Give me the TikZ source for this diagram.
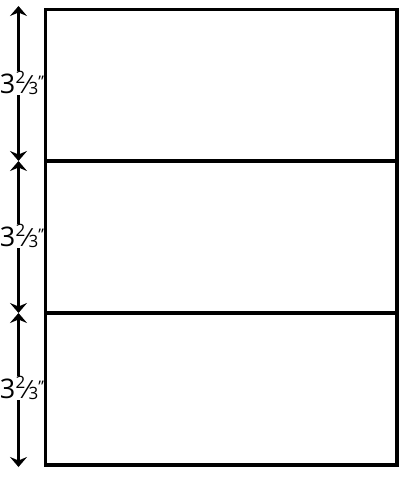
\documentclass[tikz,border=0pt]{standalone}
\usepackage{fontspec}
\setmainfont{Open Sans}
\usetikzlibrary{arrows.meta}
\newcommand\mylabel{{\fontsize{27}{27}\selectfont 3\kern0.3pt\raisebox{10pt}{\fontsize{17}{17}\selectfont 2}{\fontsize{25}{25}\selectfont ⁄}\raisebox{-1pt}{\fontsize{17}{17}\selectfont 3}\raisebox{6pt}{\fontsize{16}{16}\selectfont "}}}
\begin{document}
\begin{tikzpicture}[x=1pt,y=-1pt,
  frame/.style={line width=3.6pt},
  dim/.style={line width=3.2pt,{Stealth[length=10pt,width=17pt,inset=3.5pt]}-{Stealth[length=10pt,width=17pt,inset=3.5pt]}},
  lbl/.style={fill=white,inner sep=0.5pt}]
\useasboundingbox (0,0) rectangle (405,477);
\coordinate (a0) at (18.5,6);
\coordinate (a1) at (18.5,161);
\coordinate (a2) at (18.5,313);
\coordinate (a3) at (18.5,467);
\draw[dim] (a0) -- (a1);
\draw[dim] (a1) -- (a2);
\draw[dim] (a2) -- (a3);
\node[lbl] (l1) at (22,83) {\mylabel};
\node[lbl] (l2) at (22,236) {\mylabel};
\node[lbl] (l3) at (22,388) {\mylabel};
\coordinate (tl) at (45.5,9.5);
\coordinate (br) at (396.8,465);
\coordinate (d1l) at (45.5,161);
\coordinate (d1r) at (396.8,161);
\coordinate (d2l) at (45.5,313);
\coordinate (d2r) at (396.8,313);
\draw[frame] (tl) rectangle (br);
\draw[frame] (d1l) -- (d1r);
\draw[frame] (d2l) -- (d2r);
\end{tikzpicture}
\end{document}
